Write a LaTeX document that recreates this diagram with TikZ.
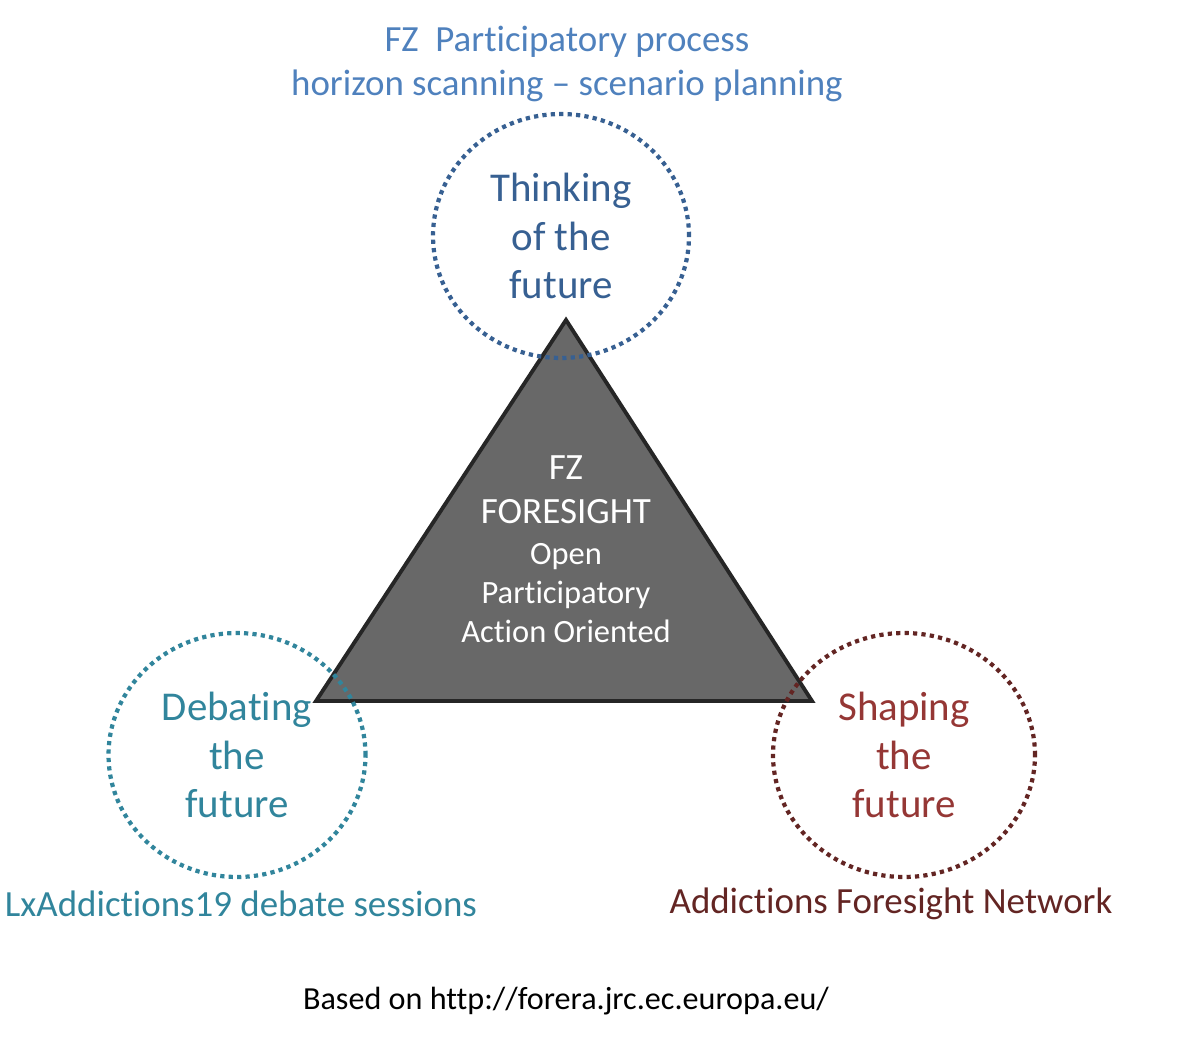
\documentclass[tikz,border=0pt]{standalone}
\usepackage{fontspec}
\setmainfont{Carlito}[Ligatures={TeX,NoCommon}]
\usepackage{xcolor}
\definecolor{SkyBlue}{HTML}{4F81BD}
\definecolor{ThinkBlue}{HTML}{376092}
\definecolor{DebTeal}{HTML}{31859C}
\definecolor{ShapeRed}{HTML}{953735}
\definecolor{ShapeDark}{HTML}{632523}
\definecolor{TriGray}{HTML}{686868}
\usepackage{tikz}
\usetikzlibrary{shapes.geometric}

\begin{document}
\begin{tikzpicture}[
    x=0.02cm, y=-0.02cm,   % one unit = one pixel of the sketch, y going down
    ring/.style={ellipse, draw, line width=2.4pt, dash pattern=on 2.4pt off 2.4pt,
                 align=center, inner sep=0pt, minimum width=5.12cm, minimum height=4.88cm,
                 font=\fontsize{23.3}{27.8}\selectfont},
    side/.style={font=\fontsize{21}{24.5}\selectfont, align=center},
    core/.style={text=white, align=center, inner sep=0pt},
  ]
  \useasboundingbox (0,0) rectangle (1196,1044);

  % ---------- the triangle ----------
  \coordinate (apex)  at (566,320);
  \coordinate (left)  at (316,701);
  \coordinate (right) at (812,701);
  \draw[fill=TriGray, draw=black!85, line width=2.2pt, line join=miter]
       (apex) -- (left) -- (right) -- cycle;
  \node[core, font=\fontsize{21.1}{25}\selectfont] (fore) at (566,490) {FZ\\FORESIGHT};
  \node[core, font=\fontsize{18.5}{22}\selectfont] (traits) at (566,593)
       {Open\\Participatory\\Action Oriented};

  % ---------- three rings, on top of the triangle ----------
  \node[ring, ThinkBlue] (think) at (561,236) {Thinking\\of the\\future};
  \node[ring, DebTeal, minimum width=5.14cm] (debate) at (237,755) {Debating\\the\\future};
  \node[ring, draw=ShapeDark, text=ShapeRed, minimum width=5.24cm] (shape) at (904,755)
       {Shaping\\the\\future};

  % ---------- captions ----------
  \node[side, SkyBlue] (process) at (567,64)
       {FZ\ \ Participatory process\\horizon scanning -- scenario planning};
  \node[side, DebTeal] (lx) at (241,904) {LxAddictions19 debate sessions};
  \node[side, ShapeDark] (net) at (891,904) {Addictions Foresight Network};
  \node[side, black, font=\fontsize{18.3}{22}\selectfont] (src) at (566,1001)
       {Based on http://forera.jrc.ec.europa.eu/};
\end{tikzpicture}
\end{document}
